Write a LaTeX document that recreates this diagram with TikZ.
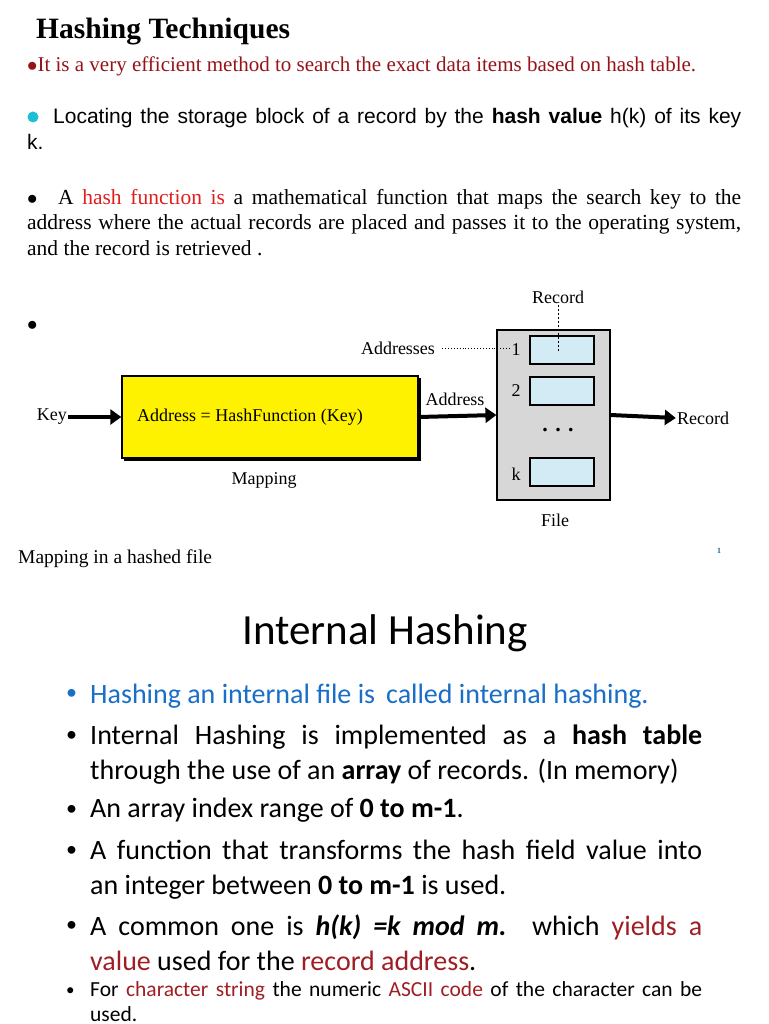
\documentclass[tikz,border=0pt]{standalone}
\usepackage{fontspec}
\setmainfont{Liberation Serif}
\newfontfamily\arialf{Liberation Sans}
\newfontfamily\calf{Carlito}
\usetikzlibrary{arrows.meta}
\definecolor{dred}{RGB}{150,20,25}
\definecolor{bred}{RGB}{225,30,30}
\definecolor{mred}{RGB}{160,30,35}
\definecolor{iblue}{RGB}{25,110,200}
\definecolor{cyandot}{RGB}{30,190,215}
\definecolor{slotblue}{RGB}{210,235,245}
\definecolor{filegray}{RGB}{215,215,215}
\definecolor{teal1}{RGB}{30,110,140}
\tikzset{
 txt/.style={inner sep=0pt,anchor=west},
 slot/.style={draw,line width=1.6pt,fill=slotblue,minimum width=64pt,minimum height=28pt,inner sep=0pt},
 fat/.style={line width=4pt,-{Triangle[length=11pt,width=15pt]}},
 lbl/.style={inner sep=1pt,font=\fontsize{18}{20}\selectfont},
 para/.style={inner sep=0pt,anchor=north west,align=justify},
 bul/.style={inner sep=0pt,anchor=north west,text width=612pt,align=justify,font=\calf\fontsize{28}{35}\selectfont},
 bdot/.style={anchor=west,inner sep=0pt,font=\calf\fontsize{22}{26}\selectfont}
}
\begin{document}
\begin{tikzpicture}[x=1pt,y=-1pt]
\useasboundingbox (0,0) rectangle (768,1024);
\fill[white] (0,0) rectangle (768,1024);
% slide 1
\node[txt,font=\bfseries\fontsize{29.5}{30}\selectfont] (title) at (36,32) {Hashing Techniques};
\node[txt,font=\fontsize{21}{22}\selectfont,text=dred] (l1) at (27,66) {$\bullet$It is a very efficient method to search the exact data items based on hash table.};
\fill[cyandot] (33,117) circle (5.5);
\node[para,text width=714pt,font=\arialf\fontsize{21}{26}\selectfont] (l2) at (27,108) {\hspace*{26pt}Locating the storage block of a record by the \textbf{hash value} h(k) of its key\linebreak k.};
\node[para,text width=714pt,font=\fontsize{21.5}{25.5}\selectfont] (l3) at (27,189) {$\bullet$\;\; A \textcolor{bred}{hash function is} a mathematical function that maps the search key to the\linebreak address where the actual records are placed and passes it to the operating system,\linebreak and the record is retrieved .};
\node[txt,font=\fontsize{21}{22}\selectfont] (b4) at (27,326) {$\bullet$};
% diagram
\node[draw,line width=1.4pt,fill=yellow,minimum width=296pt,minimum height=82pt,inner sep=0pt] (hf) at (270,417) {};
\fill[black] (124,458) rectangle (420,461);\fill[black] (418,378) rectangle (421,461);
\node[lbl,anchor=west] (hft) at (136,417) {Address = HashFunction (Key)};
\node[draw,line width=1.2pt,fill=filegray,minimum width=113pt,minimum height=170pt,inner sep=0pt] (file) at (553.5,415) {};
\node[slot] (s1) at (562,350) {};
\node[slot] (s2) at (562,391) {};
\node[slot] (sk) at (562,472) {};
\node[lbl] (n1) at (516,350) {1};
\node[lbl] (n2) at (516,391) {2};
\node[lbl] (nk) at (516,474) {k};
\node[font=\bfseries\fontsize{22}{22}\selectfont] (dots) at (558,430) {. . .};
\node[lbl,anchor=east] (key) at (68,417) {Key};
\node[lbl] (addr) at (455,399) {Address};
\node[lbl] (rec) at (703,418) {Record};
\node[lbl] (rectop) at (558,297) {Record};
\node[lbl] (addrs) at (398,348) {Addresses};
\node[lbl] (map) at (264,480) {Mapping};
\node[lbl] (filel) at (555,520) {File};
\coordinate (dl) at (510,348);
\coordinate (dv) at (558,352);
\draw[fat] (key.east) -- (hf.west);
\draw[fat] (hf.east) -- (file.west);
\draw[fat] (file.east) -- (rec.west);
\draw[dotted,line width=0.9pt] ([xshift=6pt]addrs.east) -- (dl);
\draw[line width=0.7pt,dash pattern=on 2pt off 2pt] (rectop.south) -- (dv);
\node[txt,font=\fontsize{19.5}{20}\selectfont] (cap) at (18,559) {Mapping in a hashed file};
\node[font=\bfseries\fontsize{8}{8}\selectfont,text=teal1] (pg) at (719,551) {1};
% slide 2
\node[font=\calf\fontsize{43}{46}\selectfont] (t2) at (385,633) {Internal Hashing};
\node[bdot,text=iblue] (bd1) at (66,694) {\textbullet};
\node[txt,font=\calf\fontsize{28}{30}\selectfont,text=iblue] (bb1) at (90,696) {Hashing an internal file is\, called internal hashing.};
\node[bdot] (bd2) at (66,736) {\textbullet};
\node[bul] (bb2) at (90,725) {Internal Hashing is implemented as a \textbf{hash table} through the use of an \textbf{array} of records. (In memory)};
\node[bdot] (bd3) at (66,810) {\textbullet};
\node[txt,font=\calf\fontsize{28}{30}\selectfont] (bb3) at (90,810) {An array index range of \textbf{0 to m-1}.};
\node[bdot] (bd4) at (66,851) {\textbullet};
\node[bul] (bb4) at (90,840) {A function that transforms the hash field value into\linebreak an integer between \textbf{0 to m-1} is used.};
\node[bdot] (bd5) at (66,926) {\textbullet};
\node[bul] (bb5) at (90,915) {A common one is \textbf{\textit{h(k) =k mod m.}} which \textcolor{mred}{yields a\linebreak value} used for the \textcolor{mred}{record address}.};
\node[bdot,font=\calf\fontsize{17}{20}\selectfont] (bd6) at (66,992) {\textbullet};
\node[inner sep=0pt,anchor=north west,text width=612pt,align=justify,font=\calf\fontsize{21.5}{25}\selectfont] (bb6) at (90,981) {For \textcolor{mred}{character string} the numeric \textcolor{mred}{ASCII code} of the character can be used.};
\end{tikzpicture}
\end{document}
